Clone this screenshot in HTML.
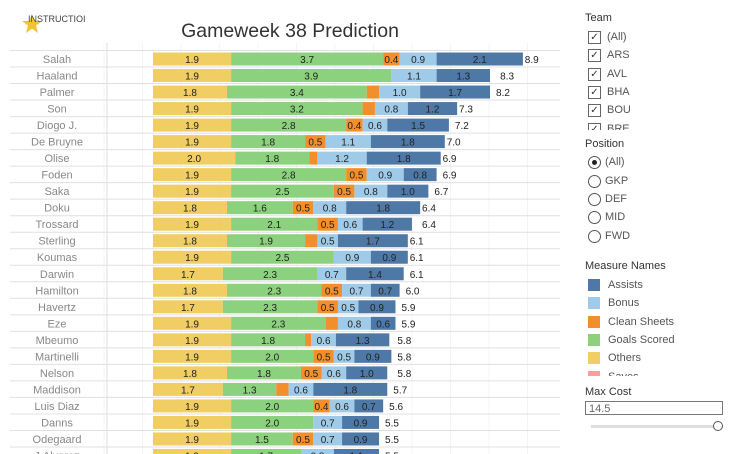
<!DOCTYPE html>
<html><head><meta charset="utf-8">
<style>
body{margin:0;width:736px;height:454px;overflow:hidden;background:#fff;font-family:"Liberation Sans",sans-serif;}
#wrap{position:relative;width:736px;height:454px;}
.panel{position:absolute;left:585px;font-size:11px;color:#555;}
.h{font-size:11px;color:#333;font-weight:normal;}
.row{position:absolute;left:0;height:16px;display:flex;align-items:center;white-space:nowrap}
.cb{width:11px;height:11px;border:1px solid #666;margin-right:6px;font-size:10px;line-height:11px;text-align:center;color:#333}
.rd{width:11px;height:11px;border:1px solid #555;border-radius:50%;margin-right:4px;position:relative}
.sw{width:12px;height:12px;margin-right:8px}
</style></head><body>
<div id="wrap">
<svg id="chart" width="580" height="454" style="position:absolute;left:0;top:0">
 <text x="290" y="37" text-anchor="middle" font-size="19.5" fill="#333" font-family="Liberation Sans, sans-serif">Gameweek 38 Prediction</text>
 <polygon points="32,14 34.5,21 42,21 36,25.5 38,33 32,28.5 26,33 28,25.5 22,21 29.5,21" fill="#f1c232"/>
 <text x="28" y="22" font-size="9" fill="#444" font-family="Liberation Sans, sans-serif">INSTRUCTIOI</text>
 <g id="grid"></g><g id="rows"></g>
</svg>

<div class="panel" style="top:12px;width:140px;height:118px;overflow:hidden">
 <div class="h" style="position:absolute;top:0">Team</div>
 <div class="row" style="top:17px;left:3px"><div class="cb">✓</div>(All)</div>
 <div class="row" style="top:35px;left:3px"><div class="cb">✓</div>ARS</div>
 <div class="row" style="top:54px;left:3px"><div class="cb">✓</div>AVL</div>
 <div class="row" style="top:72px;left:3px"><div class="cb">✓</div>BHA</div>
 <div class="row" style="top:90px;left:3px"><div class="cb">✓</div>BOU</div>
 <div class="row" style="top:109px;left:3px"><div class="cb">✓</div>BRE</div>
</div>
<div class="panel" style="top:138px;width:140px">
 <div class="h" style="position:absolute;top:0">Position</div>
 <div class="row" style="top:16px;left:3px"><div class="rd"><div style="position:absolute;left:3px;top:3px;width:5px;height:5px;border-radius:50%;background:#222"></div></div>(All)</div>
 <div class="row" style="top:35px;left:3px"><div class="rd"></div>GKP</div>
 <div class="row" style="top:53px;left:3px"><div class="rd"></div>DEF</div>
 <div class="row" style="top:71px;left:3px"><div class="rd"></div>MID</div>
 <div class="row" style="top:90px;left:3px"><div class="rd"></div>FWD</div>
</div>
<div class="panel" style="top:260px;width:140px;height:116px;overflow:hidden">
 <div class="h" style="position:absolute;top:0">Measure Names</div>
 <div class="row" style="top:17px;left:3px"><div class="sw" style="background:#4e79a7"></div>Assists</div>
 <div class="row" style="top:35px;left:3px"><div class="sw" style="background:#a0cbe8"></div>Bonus</div>
 <div class="row" style="top:54px;left:3px"><div class="sw" style="background:#f28e2b"></div>Clean Sheets</div>
 <div class="row" style="top:72px;left:3px"><div class="sw" style="background:#8cd17d"></div>Goals Scored</div>
 <div class="row" style="top:90px;left:3px"><div class="sw" style="background:#f1ce63"></div>Others</div>
 <div class="row" style="top:109px;left:3px"><div class="sw" style="background:#ff9d9a"></div>Saves</div>
</div>
<div class="panel" style="top:386px;width:140px">
 <div class="h">Max Cost</div>
 <div style="margin-top:3px;height:14px;border:1px solid #777;font-size:11px;line-height:14px;padding-left:3px;box-sizing:border-box;width:138px;color:#666">14.5</div>
 <div style="position:absolute;top:39px;left:6px;width:126px;height:3px;background:#ddd"></div>
 <div style="position:absolute;top:35px;left:128px;width:8px;height:8px;border:1px solid #555;border-radius:50%;background:#fff"></div>
</div>
</div>
<script>
const players=["Salah","Haaland","Palmer","Son","Diogo J.","De Bruyne","Olise","Foden","Saka","Doku","Trossard","Sterling","Koumas","Darwin","Hamilton","Havertz","Eze","Mbeumo","Martinelli","Nelson","Maddison","Luis Diaz","Danns","Odegaard","J.Alvarez"];
const others=[1.9,1.9,1.8,1.9,1.9,1.9,2.0,1.9,1.9,1.8,1.9,1.8,1.9,1.7,1.8,1.7,1.9,1.9,1.9,1.8,1.7,1.9,1.9,1.9,1.9];
const goals=[3.7,3.9,3.4,3.2,2.8,1.8,1.8,2.8,2.5,1.6,2.1,1.9,2.5,2.3,2.3,2.3,2.3,1.8,2.0,1.8,1.3,2.0,2.0,1.5,1.7];
const cleanSheets=[0.4,0,0.3,0.3,0.4,0.5,0.2,0.5,0.5,0.5,0.5,0.3,0,0,0.5,0.5,0.3,0.15,0.5,0.5,0.3,0.4,0,0.5,0];
const bonus=[0.9,1.1,1.0,0.8,0.6,1.1,1.2,0.9,0.8,0.8,0.6,0.5,0.9,0.7,0.7,0.5,0.8,0.6,0.5,0.6,0.6,0.6,0.7,0.7,0.8];
const assists=[2.1,1.3,1.7,1.2,1.5,1.8,1.8,0.8,1.0,1.8,1.2,1.7,0.9,1.4,0.7,0.9,0.6,1.3,0.9,1.0,1.8,0.7,0.9,0.9,1.1];
const totals=[8.9,8.3,8.2,7.3,7.2,7.0,6.9,6.9,6.7,6.4,6.4,6.1,6.1,6.1,6.0,5.9,5.9,5.8,5.8,5.8,5.7,5.6,5.5,5.5,5.5];
const NS="http://www.w3.org/2000/svg";
const x0=153,k=41.1,y0=51,rh=16.52;
const xs=v=>x0+v*k, ys=i=>y0+i*rh;
function mk(t,a){const e=document.createElementNS(NS,t);for(const n in a)e.setAttribute(n,a[n]);return e;}
const grid=document.getElementById('grid'),rows=document.getElementById('rows');
for(let g=0;g<12;g++){const l=mk('line',{x1:104+g*38.5,x2:104+g*38.5,y1:43,y2:454,stroke:'#f4f4f4'});

grid.appendChild(l);}
const vl=mk('line',{x1:107,x2:107,y1:43,y2:454,stroke:'#ddd'});

grid.appendChild(vl);
const series=[[others,'#f1ce63','others'],[goals,'#8cd17d','goals'],[cleanSheets,'#f28e2b','clean-sheets'],[bonus,'#a0cbe8','bonus'],[assists,'#4e79a7','assists']];
players.forEach((p,i)=>{
 const y=ys(i);
 const sep=mk('line',{x1:10,x2:560,y1:y-0.5,y2:y-0.5,stroke:'#e0e0e0'});
 
 rows.appendChild(sep);
 const t=mk('text',{x:57,y:y+12,'text-anchor':'middle','font-size':11,fill:'#888','font-family':'Liberation Sans, sans-serif'});
 t.textContent=p;
 
 rows.appendChild(t);
 let acc=0;
 series.forEach(([arr,col,nm])=>{
  const v=arr[i]; if(v<=0)return;
  const r=mk('rect',{x:xs(acc),y:y+1.5,width:xs(acc+v)-xs(acc),height:13,fill:col});
  
  rows.appendChild(r);
  if(v>=0.4){const lt=mk('text',{x:(xs(acc)+xs(acc+v))/2,y:y+12,'text-anchor':'middle','font-size':10,fill:'#222','font-family':'Liberation Sans, sans-serif'});
   lt.textContent=v.toFixed(1);
   
   rows.appendChild(lt);}
  acc+=v;
 });
 const tt=mk('text',{x:xs(totals[i])+6,y:y+12,'font-size':10,fill:'#222','font-family':'Liberation Sans, sans-serif'});
 tt.textContent=totals[i].toFixed(1);
 
 rows.appendChild(tt);
});
</script>
</body></html>
